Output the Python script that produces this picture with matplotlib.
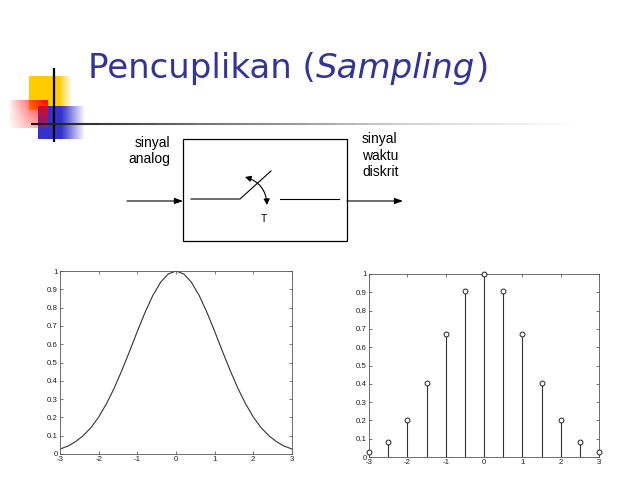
import numpy as np
import matplotlib
matplotlib.use("Agg")
import matplotlib.pyplot as plt
from matplotlib.patches import Rectangle, FancyArrowPatch
from matplotlib.collections import LineCollection

# continuous signal (0.2 steps from -3 to 3)
t_cont = np.linspace(-3, 3, 31)
x_cont = [0.027, 0.043, 0.067, 0.100, 0.144, 0.202, 0.274, 0.359, 0.457, 0.562,
          0.670, 0.774, 0.866, 0.938, 0.984, 1.000, 0.984, 0.938, 0.866, 0.774,
          0.670, 0.562, 0.457, 0.359, 0.274, 0.202, 0.144, 0.100, 0.067, 0.043,
          0.027]

# samples
t_samp = [-3, -2.5, -2, -1.5, -1, -0.5, 0, 0.5, 1, 1.5, 2, 2.5, 3]
x_samp = [0.027, 0.082, 0.202, 0.407, 0.670, 0.905, 1.0, 0.905, 0.670, 0.407,
          0.202, 0.082, 0.027]

xticks = [-3, -2, -1, 0, 1, 2, 3]
xtick_labels = ["-3", "-2", "-1", "0", "1", "2", "3"]
yticks = [0, 0.1, 0.2, 0.3, 0.4, 0.5, 0.6, 0.7, 0.8, 0.9, 1]
ytick_labels = ["0", "0.1", "0.2", "0.3", "0.4", "0.5", "0.6", "0.7", "0.8", "0.9", "1"]

TITLE_COLOR = "#333399"

fig = plt.figure(figsize=(6.38, 4.78), dpi=100)

# slide background in pixel coordinates
bg = fig.add_axes([0, 0, 1, 1])
bg.set_xlim(0, 638)
bg.set_ylim(478, 0)
bg.axis("off")


def gradient_box(x0, x1, y0, y1, rgb, alpha):
    img = np.zeros(alpha.shape + (4,))
    img[..., :3] = rgb
    img[..., 3] = alpha
    bg.imshow(img, extent=(x0, x1, y1, y0), aspect="auto", interpolation="bilinear")


u = np.linspace(0, 1, 120)[None, :] * np.ones((60, 1))
v = np.linspace(0, 1, 60)[:, None] * np.ones((1, 120))

# decoration squares
gradient_box(29, 72, 76, 110, (1.0, 0.8, 0.0), np.clip((1 - u) / 0.3, 0, 1))
gradient_box(38, 85, 106, 139, (0.2, 0.2, 0.8), np.clip((1 - u) / 0.5, 0, 1))
gradient_box(8, 48, 100, 128, (1.0, 0.0, 0.0), np.clip(u ** 0.9 * (1 - 0.6 * v), 0, 1))

bg.plot([54, 54], [68, 142], color="black", lw=1.6, solid_capstyle="butt")

# fading rule under the title
xs = np.linspace(31, 600, 300)
gray = np.interp(xs, [31, 90, 200, 300, 400, 580, 600],
                 [0.1, 0.2, 0.45, 0.62, 0.82, 1.0, 1.0])
segs = [[(xs[i], 124), (xs[i + 1], 124)] for i in range(len(xs) - 1)]
cols = [(g, g, g) for g in gray[:-1]]
bg.add_collection(LineCollection(segs, colors=cols, linewidths=1.5))

# title with italic part
t1 = bg.text(88, 78, "Pencuplikan (", fontsize=24.5, color=TITLE_COLOR,
             family="DejaVu Sans", ha="left", va="baseline")
t2 = bg.annotate("Sampling", xy=(1, 0), xycoords=t1, fontsize=24.5, color=TITLE_COLOR,
                 family="DejaVu Sans", style="italic", ha="left", va="bottom")
bg.annotate(")", xy=(1, 0), xycoords=t2, fontsize=24.5, color=TITLE_COLOR,
            family="DejaVu Sans", ha="left", va="bottom")

# block diagram
bg.add_patch(Rectangle((183, 139), 164, 102, fill=False, ec="black", lw=0.9))
bg.annotate("", xy=(183, 201), xytext=(127, 201),
            arrowprops=dict(arrowstyle="-|>,head_length=0.5,head_width=0.18",
                            color="black", lw=0.8, shrinkA=0, shrinkB=0))
bg.annotate("", xy=(403, 201), xytext=(347, 201),
            arrowprops=dict(arrowstyle="-|>,head_length=0.5,head_width=0.18",
                            color="black", lw=0.8, shrinkA=0, shrinkB=0))
bg.plot([191, 240, 271], [199, 199, 171], color="black", lw=0.8)
bg.plot([280, 339], [199, 199], color="black", lw=0.8)
bg.add_patch(FancyArrowPatch((245, 177), (267, 205), connectionstyle="arc3,rad=-0.35",
                             arrowstyle="<|-|>,head_length=3.5,head_width=1.8",
                             color="black", lw=0.8, shrinkA=0, shrinkB=0))
bg.text(264, 219, "T", fontsize=7.5, family="Liberation Sans", ha="center", va="center")

bg.text(170, 151, "sinyal\nanalog", fontsize=10, family="Liberation Sans",
        ha="right", va="center", multialignment="right", linespacing=1.15)
bg.text(362, 155.5, "sinyal\nwaktu\ndiskrit", fontsize=10, family="Liberation Sans",
        ha="left", va="center", multialignment="left", linespacing=1.25)


def style_axes(ax):
    ax.set_xlim(-3, 3)
    ax.set_ylim(0, 1)
    ax.set_xticks(xticks)
    ax.set_xticklabels(xtick_labels)
    ax.set_yticks(yticks)
    ax.set_yticklabels(ytick_labels)
    ax.tick_params(direction="in", length=2.2, width=0.5, color="#444444",
                   labelsize=5.7, pad=1.5, top=True, right=True, labelcolor="#222222")
    for lbl in ax.get_xticklabels() + ax.get_yticklabels():
        lbl.set_family("Liberation Sans")
    for sp in ax.spines.values():
        sp.set_color("#555555")
        sp.set_linewidth(0.6)


ax1 = fig.add_axes([60 / 638, (478 - 454) / 478, 232 / 638, 183 / 478])
ax1.plot(t_cont, x_cont, color="#333333", lw=0.8)
style_axes(ax1)

ax2 = fig.add_axes([369 / 638, (478 - 457) / 478, 230 / 638, 183 / 478])
ml, sl, bl = ax2.stem(t_samp, x_samp, basefmt=" ")
plt.setp(sl, color="#333333", linewidth=0.8)
plt.setp(ml, marker="o", markersize=3.5, markerfacecolor="white",
         markeredgecolor="#222222", markeredgewidth=0.7, clip_on=False, zorder=5)
style_axes(ax2)

fig.savefig("out.png", dpi=100)
